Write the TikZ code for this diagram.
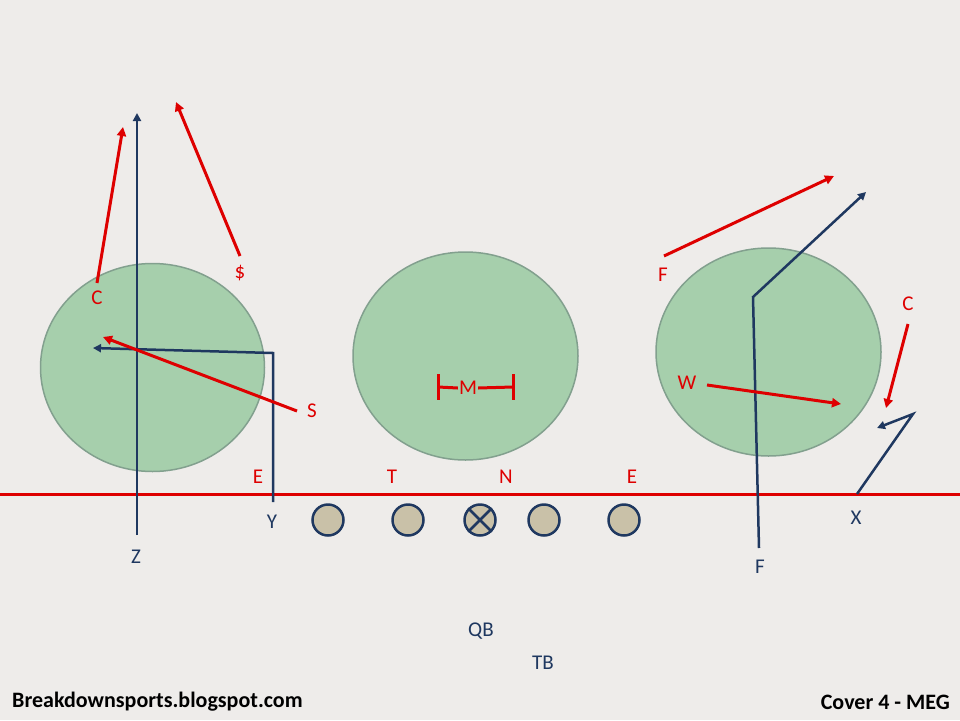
\documentclass[tikz,border=0pt]{standalone}
\usepackage{fontspec}
\setmainfont{Carlito}
\usetikzlibrary{arrows.meta}
\definecolor{bg}{RGB}{238,236,234}
\definecolor{zone}{RGB}{166,207,172}
\definecolor{zoneb}{RGB}{130,160,142}
\definecolor{navy}{RGB}{31,56,96}
\definecolor{rd}{RGB}{222,0,0}
\definecolor{tanc}{RGB}{201,193,168}
\begin{document}
\begin{tikzpicture}[x=1pt,y=-1pt,
  zonestyle/.style={fill=zone,draw=zoneb,line width=1.5pt},
  lineman/.style={circle,draw=navy,fill=tanc,line width=2.5pt,minimum size=31pt,inner sep=0pt},
  dlabel/.style={text=rd,font=\fontsize{21}{24}\selectfont,inner sep=0pt},
  olabel/.style={text=navy,font=\fontsize{21}{24}\selectfont,inner sep=0pt},
  foot/.style={text=black,font=\bfseries\fontsize{22}{24}\selectfont,inner sep=0pt},
  route/.style={draw=navy,line width=2.5pt,-{Triangle[length=8pt,width=8pt]}},
  droute/.style={draw=rd,line width=3pt,-{Triangle[length=9pt,width=9pt]}}]
\fill[bg] (0,0) rectangle (960,720);
\useasboundingbox (0,0) rectangle (960,720);
% zones
\draw[zonestyle] (152.5,367.5) ellipse [x radius=112, y radius=104];
\draw[zonestyle] (465.5,356) ellipse [x radius=112.5, y radius=104];
\draw[zonestyle] (768.5,352) ellipse [x radius=112.5, y radius=104];
% line of scrimmage
\coordinate (losL) at (0,494);
\coordinate (losR) at (960,494);
\draw[rd,line width=3pt] (losL) -- (losR);
% linemen
\node[lineman] (ol1) at (328,520) {};
\node[lineman] (ol2) at (408,520) {};
\node[lineman] (ctr) at (480,520) {};
\node[lineman] (ol4) at (544,520) {};
\node[lineman] (ol5) at (624,520) {};
\draw[navy,line width=2.5pt] (ctr.north east) -- (ctr.south west) (ctr.north west) -- (ctr.south east);
% offense labels
\node[olabel] (Z) at (136,557) {Z};
\node[olabel] (Y) at (272,522) {Y};
\node[olabel] (Fo) at (760,567) {F};
\node[olabel] (X) at (856,518) {X};
\node[olabel] (QB) at (481,631) {QB};
\node[olabel] (TB) at (543,663) {TB};
% defense labels
\node[dlabel] (E1) at (258,477) {E};
\node[dlabel] (T) at (392,477) {T};
\node[dlabel] (N) at (506,477) {N};
\node[dlabel] (E2) at (632,477) {E};
\node[dlabel] (S) at (312,411) {S};
\node[dlabel] (C1) at (97,298) {C};
\node[dlabel] (Dol) at (240,273) {\$};
\node[dlabel] (Fd) at (663,275) {F};
\node[dlabel] (C2) at (908,304) {C};
\node[dlabel] (W) at (687,383) {W};
\node[dlabel] (M) at (468,388) {M};
% offensive routes
\coordinate (z0) at (137,535); \coordinate (z1) at (137,113);
\draw[route] (z0) -- (z1);
\coordinate (y0) at (273,502); \coordinate (y1) at (273,353); \coordinate (y2) at (93,348);
\draw[route] (y0) -- (y1) -- (y2);
\coordinate (f0) at (759,548); \coordinate (f1) at (753,297); \coordinate (f2) at (866,192);
\draw[route] (f0) -- (f1) -- (f2);
\coordinate (x0) at (857,494); \coordinate (x1) at (913,414); \coordinate (x2) at (877,428);
\draw[route] (x0) -- (x1) -- (x2);
% defensive drops
\coordinate (c1a) at (97,283); \coordinate (c1b) at (123,127);
\draw[droute] (c1a) -- (c1b);
\coordinate (da) at (240,256); \coordinate (db) at (176,102);
\draw[droute] (da) -- (db);
\coordinate (sa) at (297,411); \coordinate (sb) at (103,337);
\draw[droute] (sa) -- (sb);
\coordinate (fa) at (664,256); \coordinate (fb) at (834,176);
\draw[droute] (fa) -- (fb);
\coordinate (c2a) at (908,324); \coordinate (c2b) at (886,408);
\draw[droute] (c2a) -- (c2b);
\coordinate (wa) at (707,385); \coordinate (wb) at (841,404);
\draw[droute] (wa) -- (wb);
% M bracket
\coordinate (ml) at (438,387); \coordinate (mr) at (513,387);
\draw[rd,line width=3pt] (ml) ++(0,-13) -- ++(0,26);
\draw[rd,line width=3pt] (mr) ++(0,-13) -- ++(0,26);
\draw[rd,line width=3pt] (ml) -- ([xshift=-1pt]M.west);
\draw[rd,line width=3pt] ([xshift=1pt]M.east) -- (mr);
% footer
\node[foot,anchor=west] (site) at (12,702) {Breakdownsports.blogspot.com};
\node[foot,anchor=east] (title) at (950,702) {Cover 4 - MEG};
\end{tikzpicture}
\end{document}
